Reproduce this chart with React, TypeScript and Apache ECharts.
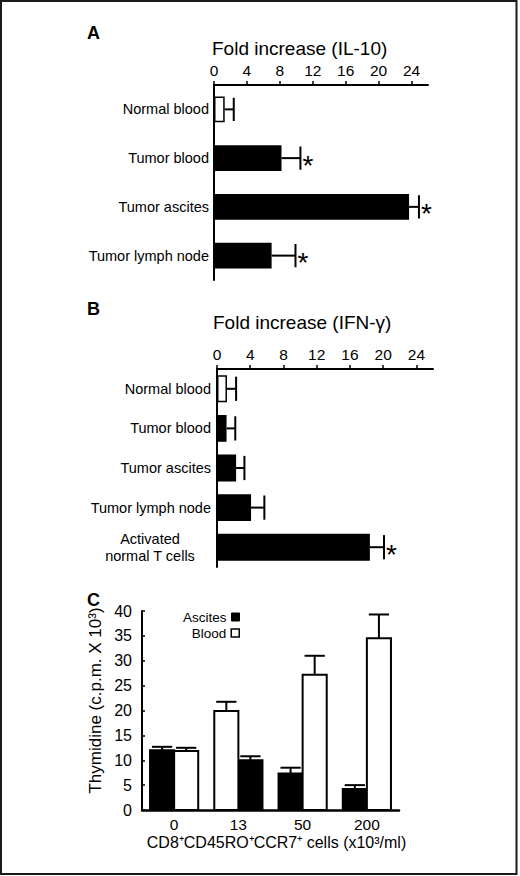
import React, { useEffect, useRef } from 'react';
import * as echarts from 'echarts';

const FONT = '"Liberation Sans", Arial, Helvetica, sans-serif';

// Panel A: IL-10 fold increase
const catsA = ['Normal blood', 'Tumor blood', 'Tumor ascites', 'Tumor lymph node'];
const il10Mean = [1.3, 8.2, 23.7, 7.0];
const il10Err = [1.1, 2.3, 1.2, 2.9];
const il10Sig = [false, true, true, true];
const il10Fill = ['#ffffff', '#000000', '#000000', '#000000'];

// Panel B: IFN-gamma fold increase
const catsB = ['Normal blood', 'Tumor blood', 'Tumor ascites', 'Tumor lymph node', 'Activated\nnormal T cells'];
const ifnMean = [1.2, 1.15, 2.3, 4.1, 18.4];
const ifnErr = [1.1, 1.05, 1.0, 1.6, 1.7];
const ifnSig = [false, false, false, false, true];
const ifnFill = ['#ffffff', '#000000', '#000000', '#000000', '#000000'];

const foldTicks = [0, 4, 8, 12, 16, 20, 24];

// Panel C: thymidine incorporation
const cellDoses = ['0', '13', '50', '200'];
const ascitesMean = [12.0, 10.0, 7.35, 4.2];
const ascitesErr = [0.7, 0.8, 1.15, 0.8];
const bloodMean = [11.85, 19.9, 27.2, 34.5];
const bloodErr = [0.65, 1.85, 3.8, 4.8];
const ascitesFirst = [true, false, true, true];

const BAR_A = 0.53;
const BAR_B = 0.68;
const BAR_C = 0.375;

function hErrorRender(barFrac: number) {
  return (params: any, api: any) => {
    const idx = api.value(2);
    const p0 = api.coord([api.value(0), idx]);
    const p1 = api.coord([api.value(1), idx]);
    const band = api.size([0, 1])[1];
    const h = band * barFrac * 0.9;
    const children: any[] = [
      { type: 'line', shape: { x1: p0[0], y1: p0[1], x2: p1[0], y2: p1[1] }, style: { stroke: '#000', lineWidth: 2 } },
      { type: 'line', shape: { x1: p1[0], y1: p1[1] - h / 2, x2: p1[0], y2: p1[1] + h / 2 }, style: { stroke: '#000', lineWidth: 2 } },
    ];
    if (api.value(3)) {
      children.push({
        type: 'text',
        x: p1[0] + 2,
        y: p1[1] + 7,
        style: { text: '*', fill: '#000', fontSize: 28, fontFamily: FONT, align: 'left', verticalAlign: 'middle' },
      });
    }
    return { type: 'group', children };
  };
}

function cBarRender(fill: string) {
  return (params: any, api: any) => {
    const idx = api.value(0);
    const val = api.value(1);
    const err = api.value(2);
    const slot = api.value(3);
    const band = api.size([1, 0])[0];
    const bw = band * BAR_C;
    const base = api.coord([idx, 0]);
    const top = api.coord([idx, val]);
    const errTop = api.coord([idx, val + err]);
    const x0 = base[0] + (slot === 0 ? -bw : 0);
    const cx = x0 + bw / 2;
    const cap = bw * 0.42;
    return {
      type: 'group',
      children: [
        { type: 'rect', shape: { x: x0, y: top[1], width: bw, height: base[1] - top[1] }, style: { fill, stroke: '#000', lineWidth: 2 } },
        { type: 'line', shape: { x1: cx, y1: top[1], x2: cx, y2: errTop[1] }, style: { stroke: '#000', lineWidth: 2 } },
        { type: 'line', shape: { x1: cx - cap, y1: errTop[1], x2: cx + cap, y2: errTop[1] }, style: { stroke: '#000', lineWidth: 2 } },
      ],
    };
  };
}

const foldXAxis = (gridIndex: number) => ({
  gridIndex,
  type: 'value',
  position: 'top',
  min: 0,
  max: 26,
  interval: 4,
  axisLine: { show: true, onZero: false, lineStyle: { color: '#000', width: 2 } },
  axisTick: { show: true, customValues: foldTicks, length: 4, lineStyle: { color: '#000', width: 1.5 } },
  axisLabel: { customValues: foldTicks, fontSize: 15.5, color: '#000', margin: 7, fontFamily: FONT },
  splitLine: { show: false },
});

const catYAxis = (gridIndex: number, data: string[], margin: number) => ({
  gridIndex,
  type: 'category',
  inverse: true,
  data,
  axisLine: { show: true, onZero: false, lineStyle: { color: '#000', width: 2 } },
  axisTick: { show: false },
  axisLabel: {
    color: '#000',
    fontSize: 14.5,
    fontFamily: FONT,
    margin,
    formatter: (v: string) => (v.indexOf('\n') >= 0 ? v.split('\n').map((s) => `{c|${s}}`).join('\n') : v),
    rich: { c: { align: 'center', width: 122, fontSize: 14.5, lineHeight: 17, fontFamily: FONT, color: '#000' } },
  },
});

export default function App() {
  const ref = useRef<HTMLDivElement>(null);
  useEffect(() => {
    document.body.style.margin = '0';
    if (!ref.current) return;
    const chart = echarts.init(ref.current, undefined, { renderer: 'svg' });
    const option: any = {
      animation: false,
      backgroundColor: '#ffffff',
      textStyle: { fontFamily: FONT },
      graphic: [
        { type: 'rect', silent: true, shape: { x: 1, y: 1, width: 515.5, height: 873 }, style: { fill: 'none', stroke: '#1a1a1a', lineWidth: 2 } },
      ],
      title: [
        { text: 'A', left: 87, top: 24, padding: 0, textStyle: { fontSize: 18, fontWeight: 'bold', color: '#000', fontFamily: FONT } },
        { text: 'Fold increase (IL-10)', left: 212, top: 39, padding: 0, textStyle: { fontSize: 19, fontWeight: 'normal', color: '#000', fontFamily: FONT } },
        { text: 'B', left: 87, top: 300, padding: 0, textStyle: { fontSize: 18, fontWeight: 'bold', color: '#000', fontFamily: FONT } },
        { text: 'Fold increase (IFN-γ)', left: 213, top: 313, padding: 0, textStyle: { fontSize: 19, fontWeight: 'normal', color: '#000', fontFamily: FONT } },
        { text: 'C', left: 87, top: 591, padding: 0, textStyle: { fontSize: 18, fontWeight: 'bold', color: '#000', fontFamily: FONT } },
      ],
      legend: [
        {
          data: [{ name: 'Ascites', icon: 'rect', itemStyle: { color: '#000', borderColor: '#000', borderWidth: 1 } }],
          right: 280, top: 610, orient: 'vertical', align: 'right', itemWidth: 8, itemHeight: 8, padding: 0,
          selectedMode: false, textStyle: { fontSize: 13.5, color: '#000', fontFamily: FONT },
        },
        {
          data: [{ name: 'Blood', icon: 'rect', itemStyle: { color: '#fff', borderColor: '#000', borderWidth: 1.5 } }],
          right: 280, top: 626, orient: 'vertical', align: 'right', itemWidth: 8, itemHeight: 8, padding: 0,
          selectedMode: false, textStyle: { fontSize: 13.5, color: '#000', fontFamily: FONT },
        },
      ],
      grid: [
        { left: 214, top: 85, width: 214, height: 195 },
        { left: 217, top: 369, width: 216, height: 198 },
        { left: 142, top: 611, width: 257, height: 199 },
      ],
      xAxis: [
        foldXAxis(0),
        foldXAxis(1),
        {
          gridIndex: 2,
          type: 'category',
          data: cellDoses,
          axisLine: { show: true, lineStyle: { color: '#000', width: 2.5 } },
          axisTick: { show: false },
          axisLabel: { fontSize: 15.5, color: '#000', margin: 6, fontFamily: FONT },
          name: 'CD8⁺CD45RO⁺CCR7⁺ cells (x10³/ml)',
          nameLocation: 'middle',
          nameGap: 24,
          nameTextStyle: { fontSize: 16, color: '#000', fontFamily: FONT, padding: [0, 0, 0, 12] },
        },
      ],
      yAxis: [
        catYAxis(0, catsA, 5),
        catYAxis(1, catsB, 6),
        {
          gridIndex: 2,
          type: 'value',
          min: 0,
          max: 40,
          interval: 5,
          axisLine: { show: true, lineStyle: { color: '#000', width: 2 } },
          axisTick: { show: true, inside: true, length: 3, lineStyle: { color: '#000', width: 1.5 } },
          axisLabel: { fontSize: 16, color: '#000', margin: 10, fontFamily: FONT },
          splitLine: { show: false },
          name: 'Thymidine (c.p.m. X 10³)',
          nameLocation: 'middle',
          nameRotate: 90,
          nameGap: 38,
          nameTextStyle: { fontSize: 17, color: '#000', fontFamily: FONT, padding: [0, 0, 0, 20] },
        },
      ],
      series: [
        {
          type: 'bar',
          name: 'IL-10',
          xAxisIndex: 0,
          yAxisIndex: 0,
          barWidth: `${BAR_A * 100}%`,
          itemStyle: { borderColor: '#000', borderWidth: 1.5 },
          data: il10Mean.map((v, i) => ({ value: v, itemStyle: { color: il10Fill[i] } })),
        },
        {
          type: 'custom',
          name: 'IL-10 error',
          xAxisIndex: 0,
          yAxisIndex: 0,
          encode: { x: [0, 1], y: 2 },
          renderItem: hErrorRender(BAR_A),
          data: il10Mean.map((m, i) => [m, m + il10Err[i], i, il10Sig[i] ? 1 : 0]),
          z: 3,
        },
        {
          type: 'bar',
          name: 'IFN-γ',
          xAxisIndex: 1,
          yAxisIndex: 1,
          barWidth: `${BAR_B * 100}%`,
          itemStyle: { borderColor: '#000', borderWidth: 1.5 },
          data: ifnMean.map((v, i) => ({ value: v, itemStyle: { color: ifnFill[i] } })),
        },
        {
          type: 'custom',
          name: 'IFN-γ error',
          xAxisIndex: 1,
          yAxisIndex: 1,
          encode: { x: [0, 1], y: 2 },
          renderItem: hErrorRender(BAR_B),
          data: ifnMean.map((m, i) => [m, m + ifnErr[i], i, ifnSig[i] ? 1 : 0]),
          z: 3,
        },
        {
          type: 'custom',
          name: 'Ascites',
          xAxisIndex: 2,
          yAxisIndex: 2,
          encode: { x: 0, y: 1 },
          itemStyle: { color: '#000' },
          renderItem: cBarRender('#000000'),
          data: ascitesMean.map((m, i) => [i, m, ascitesErr[i], ascitesFirst[i] ? 0 : 1]),
        },
        {
          type: 'custom',
          name: 'Blood',
          xAxisIndex: 2,
          yAxisIndex: 2,
          encode: { x: 0, y: 1 },
          itemStyle: { color: '#fff' },
          renderItem: cBarRender('#ffffff'),
          data: bloodMean.map((m, i) => [i, m, bloodErr[i], ascitesFirst[i] ? 1 : 0]),
        },
      ],
    };
    chart.setOption(option);
    return () => chart.dispose();
  }, []);
  return <div ref={ref} style={{ width: 520, height: 876 }} />;
}
